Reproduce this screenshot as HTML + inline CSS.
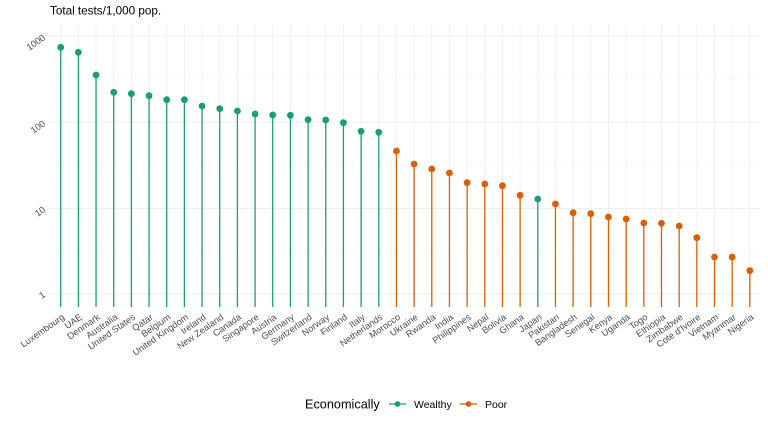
<!DOCTYPE html>
<html><head><meta charset="utf-8"><style>
html,body{margin:0;padding:0;background:#fff;}
svg{display:block;}
text{font-family:"Liberation Sans",sans-serif;}
.ax{font-size:9.2px;fill:#4d4d4d;}
.w{stroke:#1b9e77;stroke-width:1.3;}
.p{stroke:#d95f02;stroke-width:1.3;}
.wd{fill:#1b9e77;}
.pd{fill:#d95f02;}
.gm{stroke:#efefef;stroke-width:0.9;}
.gn{stroke:#f5f5f5;stroke-width:0.6;}
</style></head><body>
<svg width="768" height="427" viewBox="0 0 768 427" xmlns="http://www.w3.org/2000/svg">
<rect width="768" height="427" fill="#fff"/>
<text x="50" y="14.5" font-size="11.7" fill="#000">Total tests/1,000 pop.</text>
<line class="gn" x1="49" x2="760" y1="79" y2="79"/>
<line class="gn" x1="49" x2="760" y1="165" y2="165"/>
<line class="gn" x1="49" x2="760" y1="251" y2="251"/>
<line class="gm" x1="49" x2="760" y1="36" y2="36"/>
<line class="gm" x1="49" x2="760" y1="122" y2="122"/>
<line class="gm" x1="49" x2="760" y1="208.5" y2="208.5"/>
<line class="gm" x1="49" x2="760" y1="294" y2="294"/>
<g class="gm">
<line x1="60.70" x2="60.70" y1="24" y2="307"/><line x1="78.37" x2="78.37" y1="24" y2="307"/><line x1="96.04" x2="96.04" y1="24" y2="307"/><line x1="113.71" x2="113.71" y1="24" y2="307"/><line x1="131.38" x2="131.38" y1="24" y2="307"/><line x1="149.05" x2="149.05" y1="24" y2="307"/><line x1="166.72" x2="166.72" y1="24" y2="307"/><line x1="184.39" x2="184.39" y1="24" y2="307"/><line x1="202.06" x2="202.06" y1="24" y2="307"/><line x1="219.73" x2="219.73" y1="24" y2="307"/><line x1="237.40" x2="237.40" y1="24" y2="307"/><line x1="255.07" x2="255.07" y1="24" y2="307"/><line x1="272.74" x2="272.74" y1="24" y2="307"/><line x1="290.41" x2="290.41" y1="24" y2="307"/><line x1="308.08" x2="308.08" y1="24" y2="307"/><line x1="325.75" x2="325.75" y1="24" y2="307"/><line x1="343.42" x2="343.42" y1="24" y2="307"/><line x1="361.09" x2="361.09" y1="24" y2="307"/><line x1="378.76" x2="378.76" y1="24" y2="307"/><line x1="396.43" x2="396.43" y1="24" y2="307"/><line x1="414.10" x2="414.10" y1="24" y2="307"/><line x1="431.77" x2="431.77" y1="24" y2="307"/><line x1="449.44" x2="449.44" y1="24" y2="307"/><line x1="467.11" x2="467.11" y1="24" y2="307"/><line x1="484.78" x2="484.78" y1="24" y2="307"/><line x1="502.45" x2="502.45" y1="24" y2="307"/><line x1="520.12" x2="520.12" y1="24" y2="307"/><line x1="537.79" x2="537.79" y1="24" y2="307"/><line x1="555.46" x2="555.46" y1="24" y2="307"/><line x1="573.13" x2="573.13" y1="24" y2="307"/><line x1="590.80" x2="590.80" y1="24" y2="307"/><line x1="608.47" x2="608.47" y1="24" y2="307"/><line x1="626.14" x2="626.14" y1="24" y2="307"/><line x1="643.81" x2="643.81" y1="24" y2="307"/><line x1="661.48" x2="661.48" y1="24" y2="307"/><line x1="679.15" x2="679.15" y1="24" y2="307"/><line x1="696.82" x2="696.82" y1="24" y2="307"/><line x1="714.49" x2="714.49" y1="24" y2="307"/><line x1="732.16" x2="732.16" y1="24" y2="307"/><line x1="749.83" x2="749.83" y1="24" y2="307"/>
</g>
<g class="ax" text-anchor="end">
<text transform="translate(46,39) rotate(-35)">1000</text>
<text transform="translate(46,125) rotate(-35)">100</text>
<text transform="translate(46,211) rotate(-35)">10</text>
<text transform="translate(46,296) rotate(-35)">1</text>
</g>
<line class="w" x1="60.70" x2="60.70" y1="307" y2="47.3"/>
<line class="w" x1="78.37" x2="78.37" y1="307" y2="52.3"/>
<line class="w" x1="96.04" x2="96.04" y1="307" y2="75"/>
<line class="w" x1="113.71" x2="113.71" y1="307" y2="92.3"/>
<line class="w" x1="131.38" x2="131.38" y1="307" y2="93.7"/>
<line class="w" x1="149.05" x2="149.05" y1="307" y2="95.7"/>
<line class="w" x1="166.72" x2="166.72" y1="307" y2="99.7"/>
<line class="w" x1="184.39" x2="184.39" y1="307" y2="99.7"/>
<line class="w" x1="202.06" x2="202.06" y1="307" y2="106"/>
<line class="w" x1="219.73" x2="219.73" y1="307" y2="108.7"/>
<line class="w" x1="237.40" x2="237.40" y1="307" y2="111"/>
<line class="w" x1="255.07" x2="255.07" y1="307" y2="114"/>
<line class="w" x1="272.74" x2="272.74" y1="307" y2="115"/>
<line class="w" x1="290.41" x2="290.41" y1="307" y2="115.3"/>
<line class="w" x1="308.08" x2="308.08" y1="307" y2="119.7"/>
<line class="w" x1="325.75" x2="325.75" y1="307" y2="120"/>
<line class="w" x1="343.42" x2="343.42" y1="307" y2="122.7"/>
<line class="w" x1="361.09" x2="361.09" y1="307" y2="131.3"/>
<line class="w" x1="378.76" x2="378.76" y1="307" y2="132.3"/>
<line class="p" x1="396.43" x2="396.43" y1="307" y2="151"/>
<line class="p" x1="414.10" x2="414.10" y1="307" y2="164"/>
<line class="p" x1="431.77" x2="431.77" y1="307" y2="169"/>
<line class="p" x1="449.44" x2="449.44" y1="307" y2="173"/>
<line class="p" x1="467.11" x2="467.11" y1="307" y2="182.7"/>
<line class="p" x1="484.78" x2="484.78" y1="307" y2="184"/>
<line class="p" x1="502.45" x2="502.45" y1="307" y2="185.7"/>
<line class="p" x1="520.12" x2="520.12" y1="307" y2="195.3"/>
<line class="w" x1="537.79" x2="537.79" y1="307" y2="199"/>
<line class="p" x1="555.46" x2="555.46" y1="307" y2="204"/>
<line class="p" x1="573.13" x2="573.13" y1="307" y2="212.7"/>
<line class="p" x1="590.80" x2="590.80" y1="307" y2="213.7"/>
<line class="p" x1="608.47" x2="608.47" y1="307" y2="217"/>
<line class="p" x1="626.14" x2="626.14" y1="307" y2="219"/>
<line class="p" x1="643.81" x2="643.81" y1="307" y2="223"/>
<line class="p" x1="661.48" x2="661.48" y1="307" y2="223.3"/>
<line class="p" x1="679.15" x2="679.15" y1="307" y2="226"/>
<line class="p" x1="696.82" x2="696.82" y1="307" y2="237.7"/>
<line class="p" x1="714.49" x2="714.49" y1="307" y2="257"/>
<line class="p" x1="732.16" x2="732.16" y1="307" y2="257"/>
<line class="p" x1="749.83" x2="749.83" y1="307" y2="270.7"/>
<circle class="wd" cx="60.70" cy="47.3" r="3.4"/>
<circle class="wd" cx="78.37" cy="52.3" r="3.4"/>
<circle class="wd" cx="96.04" cy="75" r="3.4"/>
<circle class="wd" cx="113.71" cy="92.3" r="3.4"/>
<circle class="wd" cx="131.38" cy="93.7" r="3.4"/>
<circle class="wd" cx="149.05" cy="95.7" r="3.4"/>
<circle class="wd" cx="166.72" cy="99.7" r="3.4"/>
<circle class="wd" cx="184.39" cy="99.7" r="3.4"/>
<circle class="wd" cx="202.06" cy="106" r="3.4"/>
<circle class="wd" cx="219.73" cy="108.7" r="3.4"/>
<circle class="wd" cx="237.40" cy="111" r="3.4"/>
<circle class="wd" cx="255.07" cy="114" r="3.4"/>
<circle class="wd" cx="272.74" cy="115" r="3.4"/>
<circle class="wd" cx="290.41" cy="115.3" r="3.4"/>
<circle class="wd" cx="308.08" cy="119.7" r="3.4"/>
<circle class="wd" cx="325.75" cy="120" r="3.4"/>
<circle class="wd" cx="343.42" cy="122.7" r="3.4"/>
<circle class="wd" cx="361.09" cy="131.3" r="3.4"/>
<circle class="wd" cx="378.76" cy="132.3" r="3.4"/>
<circle class="pd" cx="396.43" cy="151" r="3.4"/>
<circle class="pd" cx="414.10" cy="164" r="3.4"/>
<circle class="pd" cx="431.77" cy="169" r="3.4"/>
<circle class="pd" cx="449.44" cy="173" r="3.4"/>
<circle class="pd" cx="467.11" cy="182.7" r="3.4"/>
<circle class="pd" cx="484.78" cy="184" r="3.4"/>
<circle class="pd" cx="502.45" cy="185.7" r="3.4"/>
<circle class="pd" cx="520.12" cy="195.3" r="3.4"/>
<circle class="wd" cx="537.79" cy="199" r="3.4"/>
<circle class="pd" cx="555.46" cy="204" r="3.4"/>
<circle class="pd" cx="573.13" cy="212.7" r="3.4"/>
<circle class="pd" cx="590.80" cy="213.7" r="3.4"/>
<circle class="pd" cx="608.47" cy="217" r="3.4"/>
<circle class="pd" cx="626.14" cy="219" r="3.4"/>
<circle class="pd" cx="643.81" cy="223" r="3.4"/>
<circle class="pd" cx="661.48" cy="223.3" r="3.4"/>
<circle class="pd" cx="679.15" cy="226" r="3.4"/>
<circle class="pd" cx="696.82" cy="237.7" r="3.4"/>
<circle class="pd" cx="714.49" cy="257" r="3.4"/>
<circle class="pd" cx="732.16" cy="257" r="3.4"/>
<circle class="pd" cx="749.83" cy="270.7" r="3.4"/>
<g class="ax" text-anchor="end">
<text transform="translate(65.2,318.5) rotate(-35)">Luxembourg</text>
<text transform="translate(82.9,318.5) rotate(-35)">UAE</text>
<text transform="translate(100.5,318.5) rotate(-35)">Denmark</text>
<text transform="translate(118.2,318.5) rotate(-35)">Australia</text>
<text transform="translate(135.9,318.5) rotate(-35)">United States</text>
<text transform="translate(153.6,318.5) rotate(-35)">Qatar</text>
<text transform="translate(171.2,318.5) rotate(-35)">Belgium</text>
<text transform="translate(188.9,318.5) rotate(-35)">United Kingdom</text>
<text transform="translate(206.6,318.5) rotate(-35)">Ireland</text>
<text transform="translate(224.2,318.5) rotate(-35)">New Zealand</text>
<text transform="translate(241.9,318.5) rotate(-35)">Canada</text>
<text transform="translate(259.6,318.5) rotate(-35)">Singapore</text>
<text transform="translate(277.2,318.5) rotate(-35)">Austria</text>
<text transform="translate(294.9,318.5) rotate(-35)">Germany</text>
<text transform="translate(312.6,318.5) rotate(-35)">Switzerland</text>
<text transform="translate(330.2,318.5) rotate(-35)">Norway</text>
<text transform="translate(347.9,318.5) rotate(-35)">Finland</text>
<text transform="translate(365.6,318.5) rotate(-35)">Italy</text>
<text transform="translate(383.3,318.5) rotate(-35)">Netherlands</text>
<text transform="translate(400.9,318.5) rotate(-35)">Morocco</text>
<text transform="translate(418.6,318.5) rotate(-35)">Ukraine</text>
<text transform="translate(436.3,318.5) rotate(-35)">Rwanda</text>
<text transform="translate(453.9,318.5) rotate(-35)">India</text>
<text transform="translate(471.6,318.5) rotate(-35)">Philippines</text>
<text transform="translate(489.3,318.5) rotate(-35)">Nepal</text>
<text transform="translate(506.9,318.5) rotate(-35)">Bolivia</text>
<text transform="translate(524.6,318.5) rotate(-35)">Ghana</text>
<text transform="translate(542.3,318.5) rotate(-35)">Japan</text>
<text transform="translate(560.0,318.5) rotate(-35)">Pakistan</text>
<text transform="translate(577.6,318.5) rotate(-35)">Bangladesh</text>
<text transform="translate(595.3,318.5) rotate(-35)">Senegal</text>
<text transform="translate(613.0,318.5) rotate(-35)">Kenya</text>
<text transform="translate(630.6,318.5) rotate(-35)">Uganda</text>
<text transform="translate(648.3,318.5) rotate(-35)">Togo</text>
<text transform="translate(666.0,318.5) rotate(-35)">Ethiopia</text>
<text transform="translate(683.7,318.5) rotate(-35)">Zimbabwe</text>
<text transform="translate(701.3,318.5) rotate(-35)">Cote d'Ivoire</text>
<text transform="translate(719.0,318.5) rotate(-35)">Vietnam</text>
<text transform="translate(736.7,318.5) rotate(-35)">Myanmar</text>
<text transform="translate(754.3,318.5) rotate(-35)">Nigeria</text>
</g>
<text x="305" y="408.5" font-size="12.7" fill="#000">Economically</text>
<line class="w" x1="389" x2="406" y1="404" y2="404"/>
<circle class="wd" cx="397.5" cy="404" r="2.9"/>
<text x="414" y="408" font-size="10.5" fill="#000">Wealthy</text>
<line class="p" x1="460" x2="477" y1="404" y2="404"/>
<circle class="pd" cx="468.5" cy="404" r="2.9"/>
<text x="485" y="408" font-size="10.5" fill="#000">Poor</text>
</svg>
</body></html>
